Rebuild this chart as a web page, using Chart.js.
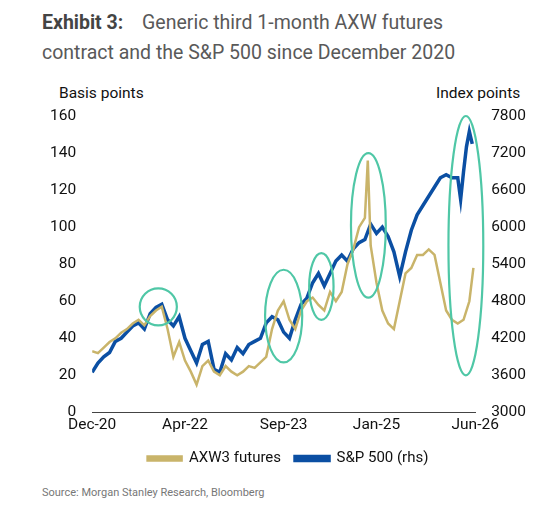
<!DOCTYPE html>
<html><head><meta charset="utf-8">
<script src="https://cdn.jsdelivr.net/npm/chart.js@4/dist/chart.umd.min.js"></script>
<style>
body{margin:0;width:554px;height:511px;background:#fff;font-family:Roboto,sans-serif;position:relative;overflow:hidden}
#t{position:absolute;left:42px;top:8px;font-size:19.5px;color:#595959;line-height:30px}
#t b{color:#444;margin-right:14px}
.ax{position:absolute;top:84px;font-size:15.5px;color:#111}
#src{position:absolute;left:42px;top:486px;font-size:11px;color:#777}
#c{position:absolute;left:0;top:0}
</style></head><body>
<div id="t"><b>Exhibit 3:</b> Generic third 1-month AXW futures<br>contract and the S&amp;P 500 since December 2020</div>
<div class="ax" style="left:59px">Basis points</div>
<div class="ax" style="left:436px">Index points</div>
<div id="src">Source: Morgan Stanley Research, Bloomberg</div>
<canvas id="c" width="554" height="476"></canvas>
<script>
const tickMonths=[0,16,33,49,66];
const tickLabels=["Dec-20","Apr-22","Sep-23","Jan-25","Jun-26"];
const spxMonths=[0,1,2,3,4,5,6,7,8,9,10,11,12,13,14,15,16,17,18,19,20,21,22,23,24,25,26,27,28,29,30,31,32,33,34,35,36,37,38,39,40,41,42,43,44,45,46,47,48,49,50,51,52,53,54,55,56,57,58,59,60,61,62,63,63.5,64,64.5,65,65.5];
const spxValues=[3650,3800,3900,3970,4150,4200,4300,4400,4450,4350,4600,4700,4750,4500,4400,4550,4200,4000,3800,4100,4150,3700,3650,3950,3850,4050,3950,4100,4150,4200,4450,4550,4500,4300,4200,4500,4750,4850,5100,5250,5050,5250,5450,5550,5450,5650,5750,5800,6050,5900,6000,5850,5600,5200,5600,5950,6200,6350,6500,6650,6800,6850,6800,6800,6450,6900,7300,7550,7350];
const axwMonths=[0,1,2,3,4,5,6,7,8,9,10,11,12,13,14,15,16,17,18,19,20,21,22,23,24,25,26,27,28,29,30,31,32,33,34,35,36,37,38,39,40,41,42,43,44,45,46,47,47.5,48,49,50,51,52,53,54,55,56,57,58,59,60,61,62,63,64,65,65.7];
const axwValues=[33,32,35,38,40,43,45,48,50,47,52,55,57,45,30,38,28,22,15,25,28,22,20,25,22,20,22,25,24,27,30,45,55,60,50,45,55,60,62,58,55,65,60,65,80,88,100,105,136,90,70,55,48,45,60,75,78,85,85,88,85,70,55,50,48,50,60,78];
// highlight ellipses: [centre month, centre bp, half-width months, half-height bp]
const ellipses=[[11.4,57,3.2,10],[33,52,3.2,25],[39.5,68,2.1,18],[47.6,101,3,39],[64.4,90,3,70]];
const gold='#c9b46a', blue='#0b4fa3';
const ellPlugin={id:'ell',afterDatasetsDraw(ch){const x=ch.scales.x,y=ch.scales.y,c=ch.ctx;c.save();c.strokeStyle='#4fc7a6';c.lineWidth=2.2;
ellipses.forEach(e=>{const cx=x.getPixelForValue(e[0]),cy=y.getPixelForValue(e[1]);const rx=x.getPixelForValue(e[0]+e[2])-cx,ry=cy-y.getPixelForValue(e[1]+e[3]);c.beginPath();c.ellipse(cx,cy,rx,ry,0,0,Math.PI*2);c.stroke();});c.restore();}};
new Chart(document.getElementById('c'),{type:'line',
data:{datasets:[
{label:'AXW3 futures',data:axwMonths.map((m,i)=>({x:m,y:axwValues[i]})),borderColor:gold,backgroundColor:gold,borderWidth:2.5,pointRadius:0,tension:0,yAxisID:'y'},
{label:'S&P 500 (rhs)',data:spxMonths.map((m,i)=>({x:m,y:spxValues[i]})),borderColor:blue,backgroundColor:blue,borderWidth:3.5,pointRadius:0,tension:0,yAxisID:'y1'}]},
options:{responsive:false,animation:false,layout:{padding:{top:116,left:42,right:20,bottom:0}},
plugins:{legend:{position:'bottom',labels:{boxWidth:34,boxHeight:4,font:{size:15,family:'Roboto'},color:'#111',padding:14}},tooltip:{enabled:false}},
scales:{x:{type:'linear',min:0,max:66,afterBuildTicks:a=>{a.ticks=tickMonths.map(v=>({value:v}))},ticks:{callback:v=>tickLabels[tickMonths.indexOf(v)],font:{size:15.5,family:'Roboto'},color:'#111',maxRotation:0,autoSkip:false},grid:{display:false,drawTicks:false},border:{color:'#444'}},
y:{min:0,max:160,ticks:{stepSize:20,font:{size:15.5,family:'Roboto'},color:'#111',padding:8},grid:{display:false},border:{display:false}},
y1:{position:'right',min:3000,max:7800,ticks:{stepSize:600,callback:v=>String(v),font:{size:15.5,family:'Roboto'},color:'#111',padding:8},grid:{display:false},border:{display:false}}}},
plugins:[ellPlugin]});
</script></body></html>
